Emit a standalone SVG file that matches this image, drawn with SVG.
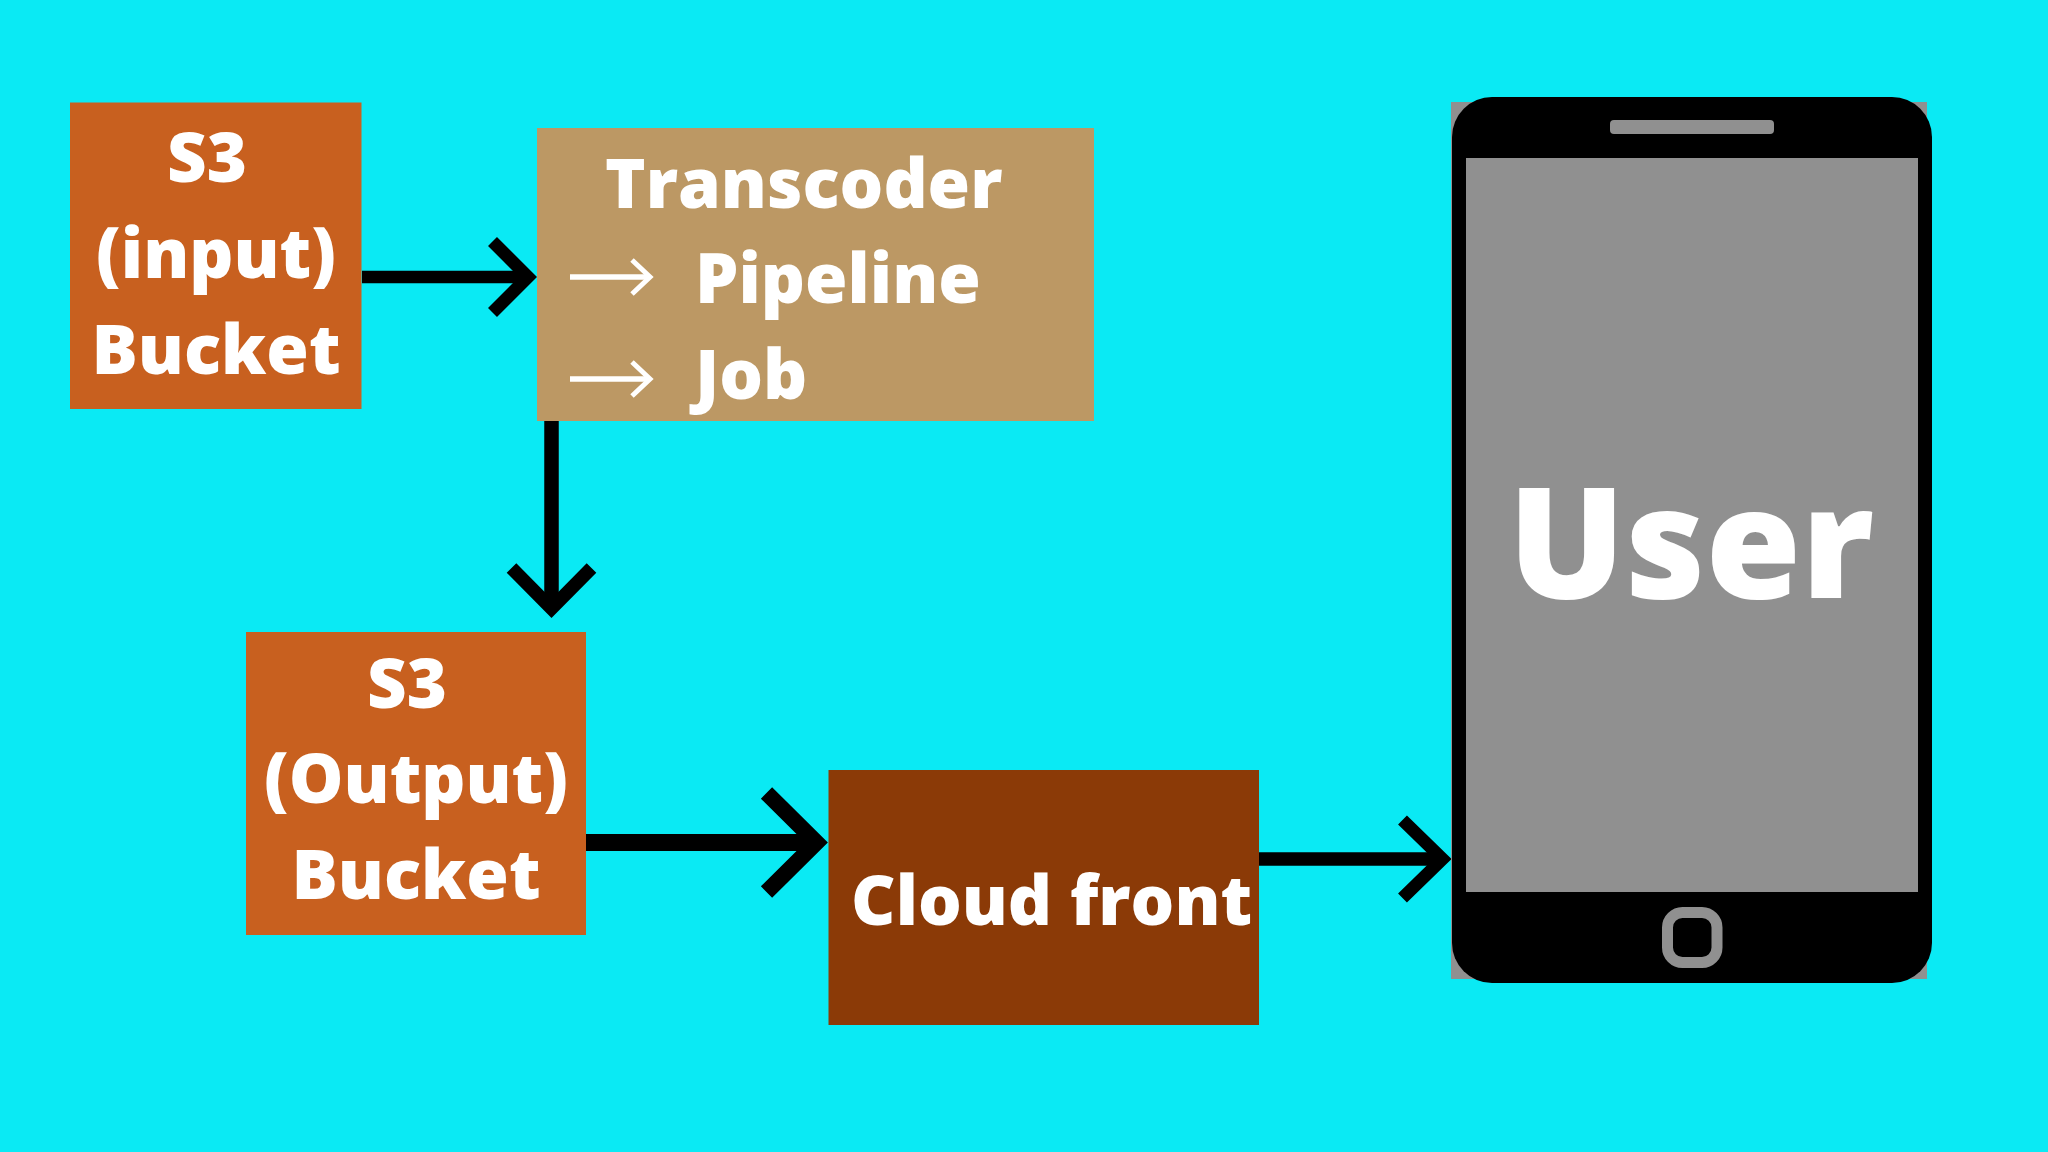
<svg xmlns="http://www.w3.org/2000/svg" width="2048" height="1152" viewBox="0 0 2048 1152">
<style>
text{font-family:"Open Sans","Noto Sans",sans-serif;font-weight:800;fill:#fff;font-size:68.8px}
.m{text-anchor:middle}
.c{fill:none;stroke:#000;stroke-linecap:butt;stroke-linejoin:miter}
.w{fill:none;stroke:#fff;stroke-width:5}
.g{fill:#909090}
</style>
<rect width="2048" height="1152" fill="#0aeaf4"/>
<g id="connectors">
<path class="c" d="M362 277H530" stroke-width="12.7"/><path class="c" d="M492.5 241.5L528 277L492.5 312.5" stroke-width="12.7"/>
<path class="c" d="M551.5 421V610" stroke-width="14.5"/><path class="c" d="M511.5 568L551.5 608.5L591.5 568" stroke-width="13.5"/>
<path class="c" d="M586 842.5H818" stroke-width="17"/><path class="c" d="M766.500 793L816.500 842.500L766.500 892" stroke-width="16"/>
<path class="c" d="M1259 859H1444" stroke-width="13.5"/><path class="c" d="M1402.5 820L1442.5 859L1402.5 898" stroke-width="12.7"/>
</g>
<g id="s3-input"><rect x="70" y="102.500" width="291.500" height="306.500" fill="#c8601f"/>
<text class="m" x="207" y="182">S3</text><text class="m" x="216" y="278">(input)</text><text class="m" x="216" y="374">Bucket</text></g>
<g id="transcoder"><rect x="537" y="128" width="557" height="293" fill="#bc9864"/>
<text x="605" y="208">Transcoder</text>
<path d="M570 277H650" stroke="#fff" stroke-width="5.500" fill="none"/><path class="w" d="M632 260L650 277L632 294"/>
<text x="695" y="303">Pipeline</text>
<path d="M570 379H650" stroke="#fff" stroke-width="5.500" fill="none"/><path class="w" d="M632 362L650 379L632 396"/>
<text x="695" y="399">Job</text></g>
<g id="s3-output"><rect x="246" y="632" width="340" height="303" fill="#c8601f"/>
<text class="m" x="407" y="708">S3</text><text class="m" x="416" y="803">(Output)</text><text class="m" x="416" y="899">Bucket</text></g>
<g id="cloudfront"><rect x="828.500" y="770" width="430.500" height="255" fill="#8b3a07"/>
<text x="851" y="925">Cloud front</text></g>
<g id="user"><rect class="g" x="1451" y="102" width="476" height="877"/>
<rect x="1452" y="97" width="480" height="886" rx="40" fill="#000"/>
<rect class="g" x="1466" y="158" width="452" height="734"/>
<rect class="g" x="1610" y="120" width="164" height="14" rx="4"/>
<rect x="1667.500" y="912.500" width="49.500" height="50" rx="15" fill="none" stroke="#909090" stroke-width="11"/>
<text class="m" x="1691" y="598" style="font-size:155px">User</text></g>
</svg>
